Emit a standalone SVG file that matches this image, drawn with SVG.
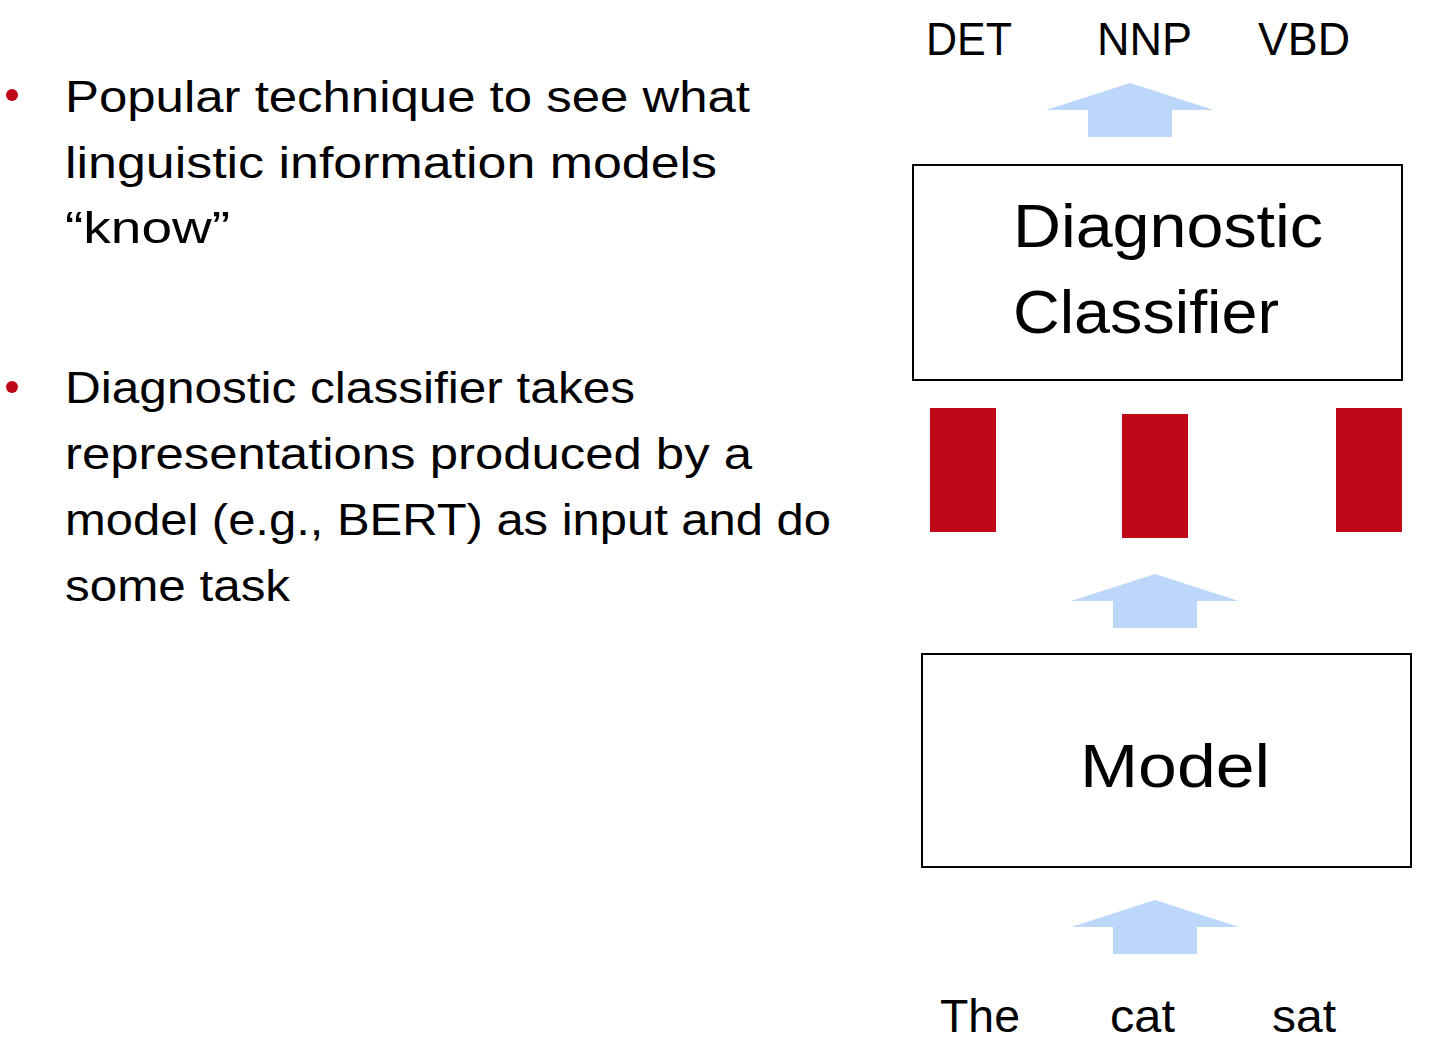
<svg xmlns="http://www.w3.org/2000/svg" width="1430" height="1050" viewBox="0 0 1430 1050">
<style>
text{font-family:"Liberation Sans",Arial,sans-serif;fill:#000}
.b{font-size:44px}
.l{font-size:46px}
.big{font-size:62px}
.box{fill:#fff;stroke:#000;stroke-width:2}
.arr{fill:#bdd7fb}
.rep{fill:#c00818}
</style>
<rect width="1430" height="1050" fill="#fff"/>
<g id="bullets">
<circle cx="12" cy="95" r="6" fill="#c00818"/>
<text class="b" x="65" y="112" textLength="685" lengthAdjust="spacingAndGlyphs">Popular technique to see what</text>
<text class="b" x="65" y="178" textLength="652" lengthAdjust="spacingAndGlyphs">linguistic information models</text>
<text class="b" x="65" y="243" textLength="165" lengthAdjust="spacingAndGlyphs">“know”</text>
<circle cx="12" cy="387" r="6" fill="#c00818"/>
<text class="b" x="65" y="403" textLength="570" lengthAdjust="spacingAndGlyphs">Diagnostic classifier takes</text>
<text class="b" x="65" y="469" textLength="687" lengthAdjust="spacingAndGlyphs">representations produced by a</text>
<text class="b" x="65" y="535" textLength="766" lengthAdjust="spacingAndGlyphs">model (e.g., BERT) as input and do</text>
<text class="b" x="65" y="601" textLength="225" lengthAdjust="spacingAndGlyphs">some task</text>
</g>
<g id="labels">
<text class="l" x="926" y="55" textLength="86" lengthAdjust="spacingAndGlyphs">DET</text>
<text class="l" x="1097" y="55" textLength="95" lengthAdjust="spacingAndGlyphs">NNP</text>
<text class="l" x="1258" y="55" textLength="92" lengthAdjust="spacingAndGlyphs">VBD</text>
</g>
<g id="connectors">
<polygon class="arr" points="1130,83 1214,110 1172,110 1172,137 1088,137 1088,110 1046,110"/>
<polygon class="arr" points="1155,574 1239,601 1197,601 1197,628 1113,628 1113,601 1071,601"/>
<polygon class="arr" points="1155,900 1239,927 1197,927 1197,954 1113,954 1113,927 1071,927"/>
</g>
<g id="classifier">
<rect class="box" x="913" y="165" width="489" height="215"/>
<text class="big" x="1013" y="247" textLength="310" lengthAdjust="spacingAndGlyphs">Diagnostic</text>
<text class="big" x="1013" y="333" textLength="266" lengthAdjust="spacingAndGlyphs">Classifier</text>
</g>
<g id="representations">
<rect class="rep" x="930" y="408" width="66" height="124"/>
<rect class="rep" x="1122" y="414" width="66" height="124"/>
<rect class="rep" x="1336" y="408" width="66" height="124"/>
</g>
<g id="model">
<rect class="box" x="922" y="654" width="489" height="213"/>
<text class="big" x="1080" y="787" textLength="190" lengthAdjust="spacingAndGlyphs">Model</text>
</g>
<g id="words">
<text class="l" x="940" y="1032" textLength="80" lengthAdjust="spacingAndGlyphs">The</text>
<text class="l" x="1110" y="1032" textLength="65" lengthAdjust="spacingAndGlyphs">cat</text>
<text class="l" x="1272" y="1032" textLength="64" lengthAdjust="spacingAndGlyphs">sat</text>
</g>
</svg>
